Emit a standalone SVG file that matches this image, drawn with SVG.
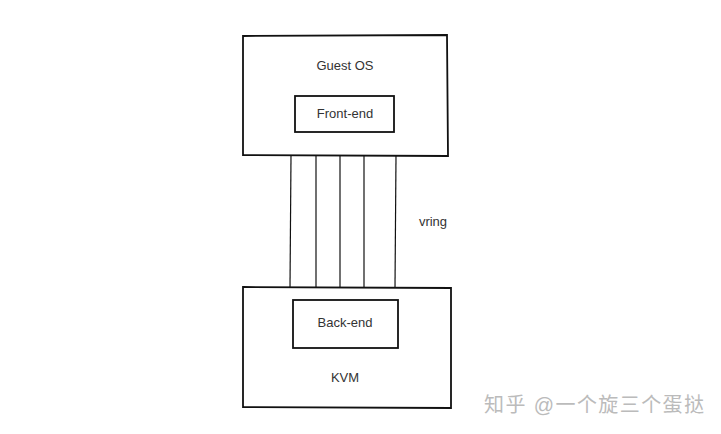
<svg xmlns="http://www.w3.org/2000/svg" width="721" height="434" viewBox="0 0 721 434">
<style>
.box{fill:none;stroke:#111;stroke-width:1.8}
.inner{fill:none;stroke:#111;stroke-width:1.8}
.ln{stroke:#111;stroke-width:1.2}
.t{font-family:"Liberation Sans",Arial,sans-serif;font-size:13px;fill:#333;text-anchor:middle}
.wm{font-family:"Liberation Sans","Noto Sans CJK SC",sans-serif;font-size:20px;fill:#bbb}
</style>
<rect width="721" height="434" fill="#fff"/>
<g id="connectors">
<line class="ln" x1="291" y1="156" x2="290" y2="287"/>
<line class="ln" x1="316" y1="156" x2="316" y2="287"/>
<line class="ln" x1="340" y1="156" x2="340" y2="287"/>
<line class="ln" x1="364" y1="156" x2="364" y2="287"/>
<line class="ln" x1="396" y1="156" x2="395" y2="287"/>
</g>
<g id="guest-os">
<path class="box" d="M243 36 L447 35 L448 156 L243 155 Z"/>
<text class="t" x="345" y="70">Guest OS</text>
</g>
<g id="front-end">
<rect class="inner" x="295" y="96" width="99" height="36"/>
<text class="t" x="345" y="118">Front-end</text>
</g>
<g id="kvm">
<path class="box" d="M243 287 L451 288 L451 408 L243 407 Z"/>
<text class="t" x="345" y="382">KVM</text>
</g>
<g id="back-end">
<rect class="inner" x="293" y="300" width="105" height="48"/>
<text class="t" x="345" y="327">Back-end</text>
</g>
<g id="vring">
<text class="t" x="433" y="226">vring</text>
</g>
<text class="wm" x="484" y="412" textLength="220" lengthAdjust="spacing">知乎 @一个旋三个蛋挞</text>
</svg>
